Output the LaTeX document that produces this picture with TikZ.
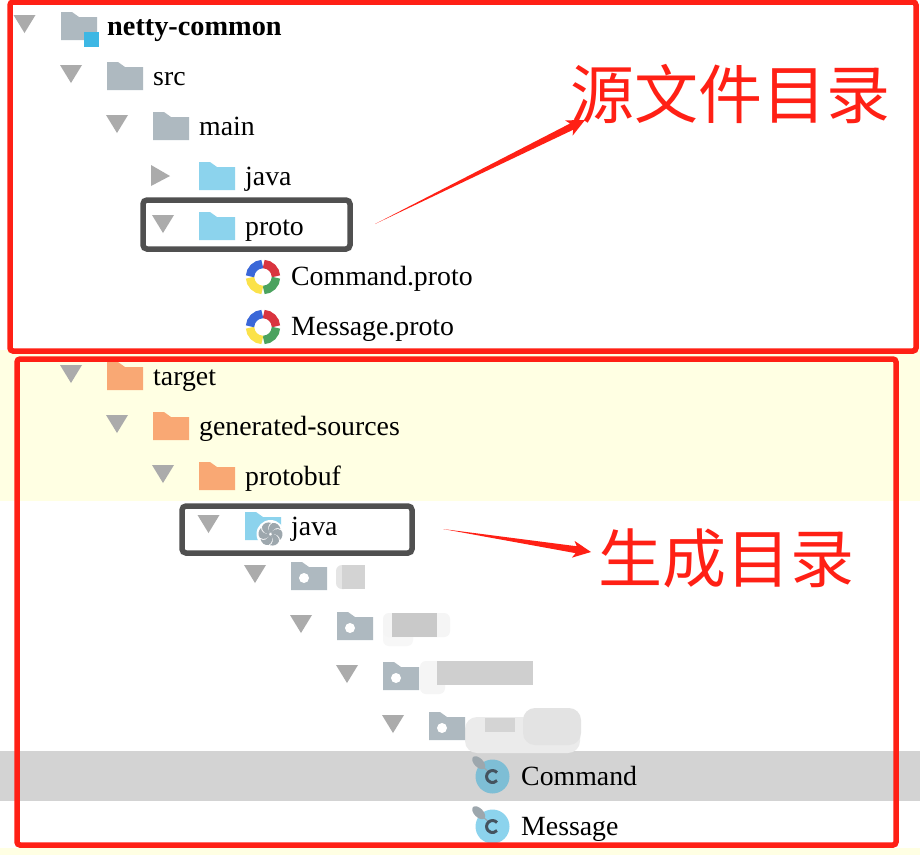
\documentclass[tikz,border=0pt]{standalone}
\usepackage{fontspec}
\setmainfont{Liberation Serif}
\newfontfamily\cjk{Noto Sans CJK SC}
\usetikzlibrary{calc}

\definecolor{frameRed}{HTML}{FF2015}
\definecolor{boxGray}{HTML}{505050}
\definecolor{triGray}{HTML}{ABABAB}
\definecolor{dirGray}{HTML}{AEB9C0}
\definecolor{dirBlue}{HTML}{8CD3ED}
\definecolor{dirOrange}{HTML}{F9A874}
\definecolor{bandYellow}{HTML}{FFFFE3}
\definecolor{rowGray}{HTML}{D3D3D3}
\definecolor{moduleBlue}{HTML}{3DB7E4}
\definecolor{ringRed}{HTML}{D9343F}
\definecolor{ringGreen}{HTML}{4BA35F}
\definecolor{ringYellow}{HTML}{FBE24A}
\definecolor{ringBlue}{HTML}{3A67D8}
\definecolor{letterGray}{HTML}{44535F}

\tikzset{
    rowlabel/.style={anchor=base west,inner sep=0pt,font=\fontsize{27.8}{32}\selectfont},
    bigtext/.style={anchor=base west,inner sep=0pt,text=frameRed,font=\fontsize{64}{70}\cjk},
    redframe/.style={draw=frameRed,line width=5.5pt,rounded corners=3pt},
    grayframe/.style={draw=boxGray,line width=5.5pt,rounded corners=4pt},
    opentri/.pic={\fill[triGray] (-11,-11) -- (11,-11) -- (0,7) -- cycle;},
    closedtri/.pic={\fill[triGray] (-9,-11) -- (10,0) -- (-9,10) -- cycle;},
    foldershape/.pic={\fill[pic actions] (0,-14) -- (11,-14) -- (18,-9) -- (36,-9) -- (36,14) -- (0,14) -- cycle;},
    packagedir/.pic={
        \fill[dirGray] (0,-14) -- (11,-14) -- (18,-9) -- (36,-9) -- (36,14) -- (0,14) -- cycle;
        \fill[white] (13,2) circle (5);
    },
    protoicon/.pic={
        \foreach \col/\first in {ringRed/-87,ringGreen/3,ringYellow/93,ringBlue/183}
            \draw[\col,line width=8.5pt] (\first:13) arc[start angle=\first,delta angle=84,radius=13];
    },
    classicon/.pic={
        \fill[pic actions] (0,0) circle (17);
        \fill[dirGray!90!black,rotate=-45] (-19.5,0) ellipse (8 and 4.5);
        \draw[dirGray!90!black,line width=1pt] (-9,-9) -- (-3,-4);
        \draw[letterGray,line width=3pt] (4.5,-4) arc[start angle=-42,delta angle=-276,radius=6];
    },
    spinblade/.pic={\fill[dirGray!90!black] (0,0) .. controls (-3,-4) and (-2,-9) .. (2,-11) .. controls (6,-11.5) and (9,-9) .. (10,-5) .. controls (7,-7) and (3,-6) .. cycle;},
}

\newcommand{\slimarrow}[2]{
    \fill[frameRed] (#1) -- ($(#2)!15pt!(#1)!3.5pt!90:(#1)$) -- ($(#2)!18pt!(#1)!8.5pt!90:(#1)$) -- (#2)
        -- ($(#2)!18pt!(#1)!8.5pt!-90:(#1)$) -- ($(#2)!15pt!(#1)!3.5pt!-90:(#1)$) -- cycle;
}

\begin{document}
\begin{tikzpicture}[x=1pt,y=-1pt]
    \useasboundingbox[fill=white] (0,0) rectangle (920,855);

    % bands behind the rows
    \fill[bandYellow] (0,350) rectangle (920,501);
    \fill[bandYellow] (0,848) rectangle (920,855);
    \fill[rowGray] (0,751) rectangle (920,801);

    % blurred names
    \fill[black!10,rounded corners=6pt] (336,565) rectangle (350,589);
    \fill[rowGray] (342,565) rectangle (365,589);
    \fill[black!3,rounded corners=6pt] (383,625) rectangle (413,646);
    \fill[black!4,rounded corners=6pt] (383,613) rectangle (450,637);
    \fill[black!21] (392,613) rectangle (437,637);
    \fill[black!4,rounded corners=6pt] (420,661) rectangle (445,694);
    \fill[black!19] (437,661) rectangle (533,685);
    \fill[black!8,rounded corners=12pt] (465,717) rectangle (580,753);
    \fill[black!17] (485,718) rectangle (515,732);
    \fill[black!11,rounded corners=12pt] (523,708) rectangle (581,745);

    % tree rows
    \foreach \rowname/\lvl/\rowy/\tint/\txt in {
        src/1/76/dirGray/src,
        main/2/126/dirGray/main,
        protosrc/3/226/dirBlue/proto,
        target/1/376/dirOrange/target,
        gensrc/2/426/dirOrange/generated-sources,
        protobuf/3/476/dirOrange/protobuf}{
        \pic at ({71+46*\lvl-46},\rowy) {opentri};
        \pic[fill=\tint] at ({61+46*\lvl},\rowy) {foldershape};
        \node[rowlabel] (\rowname) at ({107+46*\lvl},\rowy+9) {\txt};
    }
    \pic at (24.5,26) {opentri};
    \pic[fill=dirGray] at (61,26) {foldershape};
    \fill[moduleBlue] (84,32) rectangle (99,47);
    \node[rowlabel] (module) at (107,35) {\fontsize{28.3}{32}\selectfont\textbf{netty-common}};
    \pic at (160,176) {closedtri};
    \pic[fill=dirBlue] at (199,176) {foldershape};
    \node[rowlabel] (javasrc) at (245,185) {java};

    % generated java folder
    \pic at (208.5,526) {opentri};
    \pic[fill=dirBlue] at (245,526) {foldershape};
    \fill[white] (270.5,534) circle (14);
    \foreach \blade in {0,60,...,300}
        \pic[rotate=\blade] at (270.5,534) {spinblade};
    \fill[white] (270.5,534) circle (1.5);
    \node[rowlabel] (javagen) at (291,535) {java};

    % package rows, name is hidden
    \foreach \lvl/\rowy in {5/576,6/626,7/676,8/726}{
        \pic at ({71+46*\lvl-46},\rowy) {opentri};
        \pic at ({61+46*\lvl},\rowy) {packagedir};
    }

    % proto files
    \foreach \rowname/\rowy/\txt in {cmdproto/276/Command.proto,msgproto/326/Message.proto}{
        \pic at (263,\rowy+1) {protoicon};
        \node[rowlabel] (\rowname) at (291,\rowy+9) {\txt};
    }

    % generated classes
    \pic[fill=dirBlue!90!black] at (492.5,776.5) {classicon};
    \node[rowlabel] (cmdclass) at (521,785) {Command};
    \pic[fill=dirBlue] at (492.5,826.5) {classicon};
    \node[rowlabel] (msgclass) at (521,835) {Message};

    % frames
    \draw[redframe] (10,2) rectangle (916,351);
    \draw[redframe] (17,359) rectangle (896,845);
    \draw[grayframe] (143,200) rectangle (350,249);
    \draw[grayframe] (182,506) rectangle (412,553);

    % captions and arrows
    \node[bigtext] (srccaption) at (570,118) {源文件目录};
    \node[bigtext] (gencaption) at (598,582) {生成目录};
    \coordinate (srcfrom) at (375,224);
    \coordinate (srcto) at (585,120);
    \coordinate (genfrom) at (443,529);
    \coordinate (gento) at (591,552);
    \slimarrow{srcfrom}{srcto}
    \slimarrow{genfrom}{gento}
\end{tikzpicture}
\end{document}
